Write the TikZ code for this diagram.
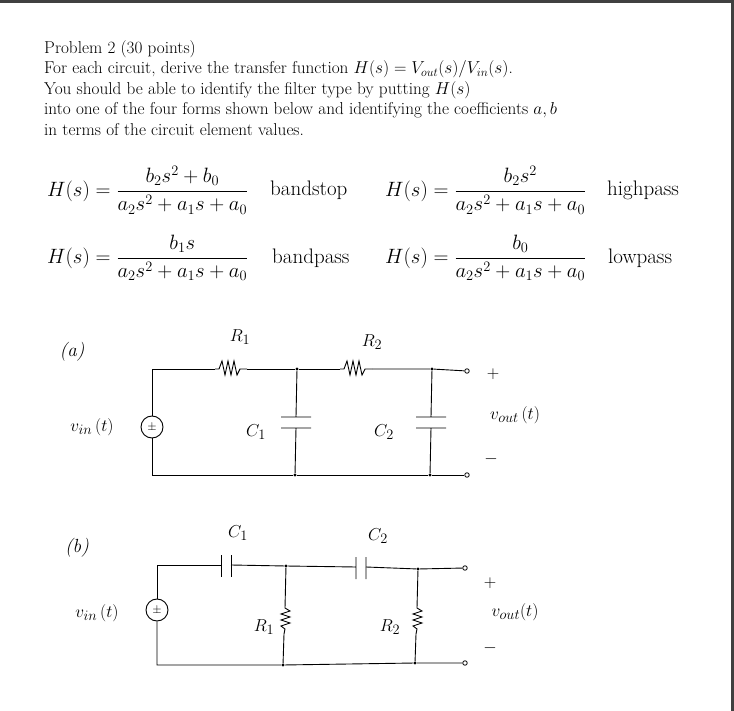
\documentclass[tikz,border=0pt]{standalone}
\usepackage{amsmath}
\begin{document}
\begin{tikzpicture}[x=1pt,y=-1pt,
  w/.style={line width=0.9pt},
  txt/.style={font=\fontsize{17.2}{20.5}\selectfont,inner sep=0},
  eq/.style={font=\fontsize{21}{25}\selectfont,inner sep=0},
  hand/.style={font=\fontsize{19}{22}\selectfont\itshape,inner sep=0},
  dot/.style={circle,fill,inner sep=1.1pt},
  term/.style={circle,draw,line width=0.8pt,inner sep=1.6pt,fill=white}]
\useasboundingbox (0,0) rectangle (734,711);
\fill[white] (0,0) rectangle (734,711);
\fill[black!75] (0,0) rectangle (734,3);
\fill[black!75] (731,0) rectangle (734,711);
% text
\node[txt,anchor=west,align=left] (t) at (44,88) {Problem 2 (30 points)\\
For each circuit, derive the transfer function $H(s)=V_{out}(s)/V_{in}(s)$.\\
You should be able to identify the filter type by putting $H(s)$\\
into one of the four forms shown below and identifying the coefficients $a,b$\\
in terms of the circuit element values.};
\node[eq,anchor=west] (e1) at (47,190) {$H(s)=\dfrac{b_2s^2+b_0}{a_2s^2+a_1s+a_0}$};
\node[eq,anchor=west] (l1) at (270,190) {bandstop};
\node[eq,anchor=west] (e2) at (385,190) {$H(s)=\dfrac{b_2s^2}{a_2s^2+a_1s+a_0}$};
\node[eq,anchor=west] (l2) at (607,190) {highpass};
\node[eq,anchor=west] (e3) at (47,258) {$H(s)=\dfrac{b_1s}{a_2s^2+a_1s+a_0}$};
\node[eq,anchor=west] (l3) at (272,258) {bandpass};
\node[eq,anchor=west] (e4) at (385,258) {$H(s)=\dfrac{b_0}{a_2s^2+a_1s+a_0}$};
\node[eq,anchor=west] (l4) at (608,258) {lowpass};
% circuit a
\node[circle,draw,w,minimum size=22pt,inner sep=0,font=\large] (sa) at (152,427) {$\pm$};
\coordinate (a0) at (152,369); \coordinate (ab0) at (152,475);
\coordinate (r1a) at (215,369); \coordinate (r1b) at (247,369);
\node[dot] (n1) at (297,369) {}; \node[dot] (m1) at (295,475) {};
\coordinate (r2a) at (340,369); \coordinate (r2b) at (372,369);
\node[dot] (n2) at (432,369) {}; \node[dot] (m2) at (430,475) {};
\node[term] (ta) at (467,371) {}; \node[term] (tb) at (467,475) {};
\draw[w] (sa) -- (a0) -- (r1a);
\draw[w] (r1a) -- ++(4,0) -- ++(3,-8) -- ++(3,14) -- ++(3,-14) -- ++(3,14) -- ++(3,-14) -- ++(3,14) -- ++(3,-6) -- (r1b);
\draw[w] (r1b) -- (n1) -- (r2a);
\draw[w] (r2a) -- ++(4,0) -- ++(3,-8) -- ++(3,14) -- ++(3,-14) -- ++(3,14) -- ++(3,-14) -- ++(3,14) -- ++(3,-6) -- (r2b);
\draw[w] (r2b) -- (n2) -- (ta);
\draw[w] (sa) -- (ab0) -- (m1) -- (m2) -- (tb);
\draw[w] (n1) -- (296,417) (281,417) -- (311,417) (281,428) -- (311,428) (296,428) -- (m1);
\draw[w] (n2) -- (431,417) (416,417) -- (446,417) (416,428) -- (446,428) (431,428) -- (m2);
\node[hand] (la) at (72,352) {(a)};
\node[hand] (lr1) at (240,337) {$R_1$};
\node[hand] (lr2) at (372,342) {$R_2$};
\node[hand] (lc1) at (256,432) {$C_1$};
\node[hand] (lc2) at (384,432) {$C_2$};
\node[hand] (lvi) at (92,427) {$v_{in}\,(t)$};
\node[hand] (lvo) at (515,415) {$v_{out}\,(t)$};
\node[hand] (lp) at (493,374) {$+$};
\node[hand] (lm) at (491,459) {$-$};
% circuit b
\node[circle,draw,w,minimum size=22pt,inner sep=0,font=\large] (sb) at (157,610) {$\pm$};
\coordinate (b0) at (157,565); \coordinate (bb0) at (157,665);
\coordinate (c1a) at (221,565); \coordinate (c1b) at (231,565);
\node[dot] (p1) at (286,566) {}; \node[dot] (q1) at (283,665) {};
\coordinate (c2a) at (356,567); \coordinate (c2b) at (366,567);
\node[dot] (p2) at (418,569) {}; \node[dot] (q2) at (415,663) {};
\node[term] (tc) at (465,568) {}; \node[term] (td) at (465,663) {};
\draw[w] (sb) -- (b0) -- (c1a) (c1a) ++(0,-10) -- ++(0,22) (c1b) ++(0,-10) -- ++(0,22);
\draw[w] (c1b) -- (p1) -- (c2a) (c2a) ++(0,-10) -- ++(0,22) (c2b) ++(0,-10) -- ++(0,22);
\draw[w] (c2b) -- (p2) -- (tc);
\draw[w] (sb) -- (bb0) -- (q1) -- (q2) -- (td);
\draw[w] (p1) -- (285,608) -- ++(5,3) -- ++(-9,3) -- ++(9,3) -- ++(-9,3) -- ++(9,3) -- ++(-9,3) -- ++(4,3) -- (284,634) -- (q1);
\draw[w] (p2) -- (417,608) -- ++(5,3) -- ++(-9,3) -- ++(9,3) -- ++(-9,3) -- ++(9,3) -- ++(-9,3) -- ++(4,3) -- (416,634) -- (q2);
\node[hand] (lb) at (77,548) {(b)};
\node[hand] (lbc1) at (238,533) {$C_1$};
\node[hand] (lbc2) at (378,536) {$C_2$};
\node[hand] (lbr1) at (264,627) {$R_1$};
\node[hand] (lbr2) at (390,627) {$R_2$};
\node[hand] (lbvi) at (97,613) {$v_{in}\,(t)$};
\node[hand] (lbvo) at (515,612) {$v_{out}(t)$};
\node[hand] (lbp) at (490,583) {$+$};
\node[hand] (lbm) at (490,648) {$-$};
\end{tikzpicture}
\end{document}
